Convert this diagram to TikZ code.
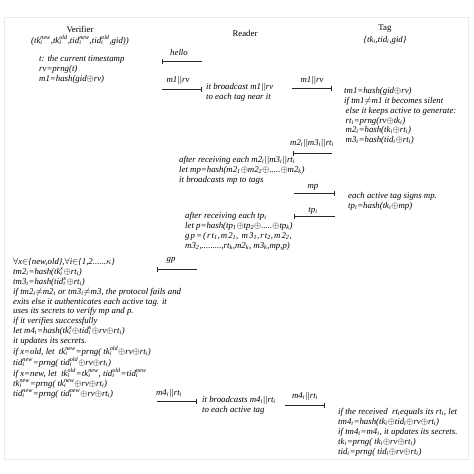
\documentclass[tikz,border=0pt]{standalone}
\usepackage{fontspec}
\setmainfont{Liberation Serif}
\usetikzlibrary{arrows.meta}
\newcommand{\sbs}[1]{\textsubscript{#1}}
\newcommand{\sbsp}[2]{\rlap{\textsubscript{#1}}\textsuperscript{#2}}
\newcommand{\xo}{{$\oplus$}}
\tikzset{
  txt/.style={anchor=north west, inner sep=0pt, align=left,
    font=\fontsize{8.8}{9.9}\selectfont\itshape,
    execute at begin node={\rule{0pt}{7pt}}},
  lbl/.style={inner sep=0pt, font=\fontsize{8.8}{9.9}\selectfont\itshape},
  ttl/.style={inner sep=0pt, font=\fontsize{8.8}{9.9}\selectfont},
  msg/.style={line width=0.8pt, draw=black!85, -{Bar[width=5pt,line width=0.8pt]}},
}
\begin{document}
\begin{tikzpicture}[x=1pt,y=-1pt]
\useasboundingbox (0,0) rectangle (474,474);
\fill[white] (0,0) rectangle (474,474);
\draw[black!8, line width=1pt] (4,17) rectangle (468,459);

% titles
\node[ttl] (tv) at (80,29) {Verifier};
\node[lbl] (tvs) at (80,40) {(tk\sbsp{i}{new},tk\sbsp{i}{old},tid\sbsp{i}{new},tid\sbsp{i}{old},gid))};
\node[ttl] (tr) at (245,33) {Reader};
\node[ttl] (tt) at (385,29) {Tag};
\node[lbl] (tts) at (385,40) {\{tk\sbs{i},tid\sbs{i},gid\}};

% verifier start
\node[txt] (v1) at (39,55) {t: the current timestamp\\rv=prng(t)\\m1=hash(gid\xo rv)};

% hello
\node[lbl] (lhello) at (179,52) {hello};
\coordinate (h1) at (202,61); \coordinate (h2) at (162,61);
\draw[msg] (h1) -- (h2);

% m1||rv
\node[lbl] (lm1a) at (178,80) {m1||rv};
\coordinate (m1a) at (162,89); \coordinate (m1b) at (202,89);
\draw[msg] (m1a) -- (m1b);
\node[txt] (r1) at (206,83) {it broadcast m1||rv\\to each tag near it};
\node[lbl] (lm1b) at (312,80) {m1||rv};
\coordinate (m1c) at (292,88); \coordinate (m1d) at (332,88);
\draw[msg] (m1c) -- (m1d);

% tag block 1
\node[txt] (t1) at (344,87) {tm1=hash(gid\xo rv)\\
if tm1$\neq$m1 it becomes silent\\
\hspace*{1.5pt}else it keeps active to generate:\\
\hspace*{1.5pt}rt\sbs{i}=prng(rv\xo tk\sbs{i})\\
\hspace*{1.5pt}m2\sbs{i}=hash(tk\sbs{i}\xo rt\sbs{i})\\
\hspace*{1.5pt}m3\sbs{i}=hash(tid\sbs{i}\xo rt\sbs{i})};

% m2||m3||rt
\node[lbl] (lm2) at (312,143) {m2\sbs{i}||m3\sbs{i}||rt\sbs{i}};
\coordinate (m2a) at (332,153); \coordinate (m2b) at (293,153);
\draw[msg] (m2a) -- (m2b);

% reader block 2
\node[txt] (r2) at (179,156) {after receiving each m2\sbs{i}||m3\sbs{i}||rt\sbs{i}\\
let mp=hash(m2\sbs{1}\xo m2\sbs{2}\xo.....\xo m2\sbs{k})\\
it broadcasts mp to tags};

% mp
\node[lbl] (lmp) at (313,187) {mp};
\coordinate (mpa) at (294,193); \coordinate (mpb) at (335,193);
\draw[msg] (mpa) -- (mpb);
\node[txt] (t2) at (348,192) {each active tag signs mp.\\tp\sbs{i}=hash(tk\sbs{i}\xo mp)};

% tp
\node[lbl] (ltp) at (313,211) {tp\sbs{i}};
\coordinate (tpa) at (335,216); \coordinate (tpb) at (294,216);
\draw[msg] (tpa) -- (tpb);

% reader block 3
\node[txt] (r3) at (185,212) {after receiving each tp\sbs{i}\\
let p=hash(tp\sbs{1}\xo tp\sbs{2}\xo.....\xo tp\sbs{k})\\
{\addfontfeature{LetterSpace=12}gp=(rt\sbs{1},m2\sbs{1}, m3\sbs{1},rt\sbs{2},m2\sbs{2},}\\
m3\sbs{2},.........,rt\sbs{k},m2\sbs{k}, m3\sbs{k},mp,p)};

% gp
\node[lbl] (lgp) at (171,260) {gp};
\coordinate (gpa) at (197,269); \coordinate (gpb) at (157,269);
\draw[msg] (gpa) -- (gpb);

% verifier block 2
\node[txt] (v2) at (13,258) {$\forall$x$\in$\{new,old\},$\forall$i$\in$\{1,2......$\kappa$\}\\
tm2\sbs{i}=hash(tk\sbsp{i}{x}\xo rt\sbs{i})\\
tm3\sbs{i}=hash(tid\sbsp{i}{x}\xo rt\sbs{i})\\
if tm2\sbs{i}$\neq$m2\sbs{i} or tm3\sbs{i}$\neq$m3, the protocol fails and\\
exits else it authenticates each active tag. it\\
uses its secrets to verify mp and p.\\
if it verifies successfully\\
let m4\sbs{i}=hash(tk\sbsp{i}{x}\xo tid\sbsp{i}{x}\xo rv\xo rt\sbs{i})\\
it updates its secrets.\\
if x=old, let\ \ tk\sbsp{i}{new}=prng( tk\sbsp{i}{old}\xo rv\xo rt\sbs{i})\\
tid\sbsp{i}{new}=prng( tid\sbsp{i}{old}\xo rv\xo rt\sbs{i})\\
if x=new, let\ \ tk\sbsp{i}{old}=tk\sbsp{i}{new}, tid\sbsp{i}{old}=tid\sbsp{i}{new}\\
tk\sbsp{i}{new}=prng( tk\sbsp{i}{new}\xo rv\xo rt\sbs{i})\\
tid\sbsp{i}{new}=prng( tid\sbsp{i}{new}\xo rv\xo rt\sbs{i})};

% m4 from verifier
\node[lbl] (lm4a) at (169,393) {m4\sbs{i}||rt\sbs{i}};
\coordinate (m4a) at (157,401); \coordinate (m4b) at (197,401);
\draw[msg] (m4a) -- (m4b);
\node[txt] (r4) at (202,396) {it broadcasts m4\sbs{i}||rt\sbs{i}\\to each active tag};

% m4 to tag
\node[lbl] (lm4b) at (305,396) {m4\sbs{i}||rt\sbs{i}};
\coordinate (m4c) at (285,405); \coordinate (m4d) at (325,405);
\draw[msg] (m4c) -- (m4d);

% tag final
\node[txt] (t3) at (338,408) {if the received\ \ rt\sbs{i}equals its rt\sbs{i}, let\\
tm4\sbs{i}=hash(tk\sbs{i}\xo tid\sbs{i}\xo rv\xo rt\sbs{i})\\
if tm4\sbs{i}=m4\sbs{i}, it updates its secrets.\\
tk\sbs{i}=prng( tk\sbs{i}\xo rv\xo rt\sbs{i})\\
tid\sbs{i}=prng( tid\sbs{i}\xo rv\xo rt\sbs{i})};
\end{tikzpicture}
\end{document}
